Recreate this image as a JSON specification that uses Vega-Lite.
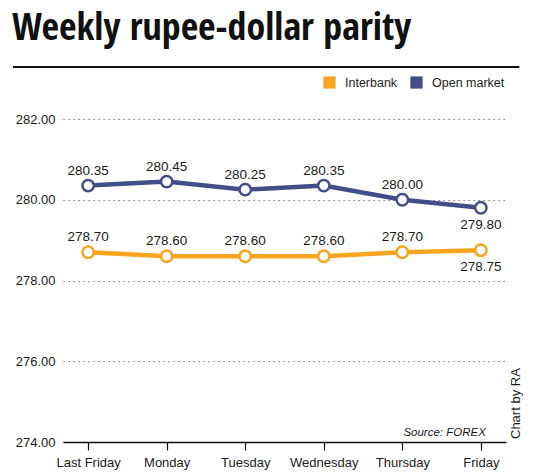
{
  "$schema": "https://vega.github.io/schema/vega-lite/v6.json",
  "padding": {"left": 11, "top": 9, "right": 5, "bottom": 3},
  "background": "white",
  "title": {
    "text": "Weekly rupee-dollar parity",
    "anchor": "start",
    "frame": "bounds",
    "font": "Open Sans Condensed, Roboto Condensed, DejaVu Sans Condensed, Arial Narrow, Liberation Sans",
    "fontSize": 38,
    "fontWeight": "bold",
    "color": "#111111",
    "offset": 18
  },
  "width": 443,
  "height": 323,
  "config": {
    "view": {"stroke": null},
    "font": "Liberation Sans",
    "axis": {"labelFont": "Liberation Sans", "labelColor": "#1a1a1a"}
  },
  "datasets": {
    "parity": [
      {"day": "Last Friday", "series": "Interbank", "rate": 278.70, "pos": "above"},
      {"day": "Monday", "series": "Interbank", "rate": 278.60, "pos": "above"},
      {"day": "Tuesday", "series": "Interbank", "rate": 278.60, "pos": "above"},
      {"day": "Wednesday", "series": "Interbank", "rate": 278.60, "pos": "above"},
      {"day": "Thursday", "series": "Interbank", "rate": 278.70, "pos": "above"},
      {"day": "Friday", "series": "Interbank", "rate": 278.75, "pos": "below"},
      {"day": "Last Friday", "series": "Open market", "rate": 280.35, "pos": "above"},
      {"day": "Monday", "series": "Open market", "rate": 280.45, "pos": "above"},
      {"day": "Tuesday", "series": "Open market", "rate": 280.25, "pos": "above"},
      {"day": "Wednesday", "series": "Open market", "rate": 280.35, "pos": "above"},
      {"day": "Thursday", "series": "Open market", "rate": 280.00, "pos": "above"},
      {"day": "Friday", "series": "Open market", "rate": 279.80, "pos": "below"}
    ]
  },
  "resolve": {"scale": {"x": "independent"}},
  "layer": [
    {
      "data": {"values": [{"from": -0.113, "to": 1.03, "level": 283.29}]},
      "mark": {"type": "rule", "color": "#111111", "strokeWidth": 2},
      "encoding": {
        "x": {"field": "from", "type": "quantitative", "scale": {"domain": [0, 1]}, "axis": null},
        "x2": {"field": "to"},
        "y": {"field": "level", "type": "quantitative"}
      }
    },
    {
      "data": {"name": "parity"},
      "encoding": {
        "x": {
          "field": "day", "type": "ordinal",
          "scale": {"type": "point", "padding": 0.32, "domain": ["Last Friday", "Monday", "Tuesday", "Wednesday", "Thursday", "Friday"]},
          "axis": {
            "title": null, "labelAngle": 0, "labelFontSize": 13, "labelPadding": 6,
            "domainColor": "#111111", "domainWidth": 1.5,
            "tickColor": "#111111", "tickSize": 8, "tickWidth": 1.2,
            "grid": false
          }
        },
        "y": {
          "field": "rate", "type": "quantitative",
          "scale": {"domain": [274, 282], "zero": false, "nice": false},
          "axis": {
            "title": null, "values": [274, 276, 278, 280, 282], "format": ".2f",
            "labelFontSize": 13, "labelPadding": 8,
            "domain": false, "ticks": false,
            "grid": true, "gridColor": "#555555", "gridDash": [1.2, 3.8], "gridWidth": 1
          }
        }
      },
      "layer": [
        {
          "mark": {"type": "line", "strokeWidth": 4.5},
          "encoding": {
            "color": {
              "field": "series", "type": "nominal",
              "scale": {"domain": ["Interbank", "Open market"], "range": ["#F7A51F", "#434D87"]},
              "legend": {
                "title": null, "orient": "none", "direction": "horizontal",
                "legendX": 260, "legendY": -43,
                "symbolType": "square", "symbolSize": 150, "symbolStrokeWidth": 0,
                "labelFontSize": 12.5, "labelColor": "#222222", "labelOffset": 9,
                "columnPadding": 12,
                "encode": {
                  "symbols": {"update": {"fill": {"scale": "color", "field": "value"}, "stroke": {"value": "transparent"}}}
                }
              }
            }
          }
        },
        {
          "mark": {"type": "point", "shape": "circle", "filled": true, "fill": "white", "size": 130, "strokeWidth": 2.5, "opacity": 1},
          "encoding": {
            "stroke": {
              "field": "series", "type": "nominal",
              "scale": {"domain": ["Interbank", "Open market"], "range": ["#F7A51F", "#434D87"]},
              "legend": null
            }
          }
        },
        {
          "transform": [{"filter": "datum.pos == 'above'"}],
          "mark": {"type": "text", "baseline": "bottom", "dy": -8, "fontSize": 13.5, "color": "#1a1a1a"},
          "encoding": {
            "text": {"field": "rate", "type": "quantitative", "format": ".2f"}
          }
        },
        {
          "transform": [{"filter": "datum.pos == 'below'"}],
          "mark": {"type": "text", "baseline": "top", "dy": 10, "fontSize": 13.5, "color": "#1a1a1a"},
          "encoding": {
            "text": {"field": "rate", "type": "quantitative", "format": ".2f"}
          }
        },
        {
          "data": {"values": [{"day": "Friday", "rate": 274, "note": "Source: FOREX"}]},
          "mark": {"type": "text", "align": "right", "baseline": "bottom", "dx": 5, "dy": -4, "fontSize": 11.5, "fontStyle": "italic", "color": "#1a1a1a"},
          "encoding": {
            "text": {"field": "note"}
          }
        },
        {
          "data": {"values": [{"day": "Friday", "rate": 274, "note": "Chart by RA"}]},
          "mark": {"type": "text", "angle": 270, "align": "left", "baseline": "middle", "dx": 3, "dy": 35, "fontSize": 13, "color": "#1a1a1a"},
          "encoding": {
            "text": {"field": "note"}
          }
        }
      ]
    }
  ]
}
